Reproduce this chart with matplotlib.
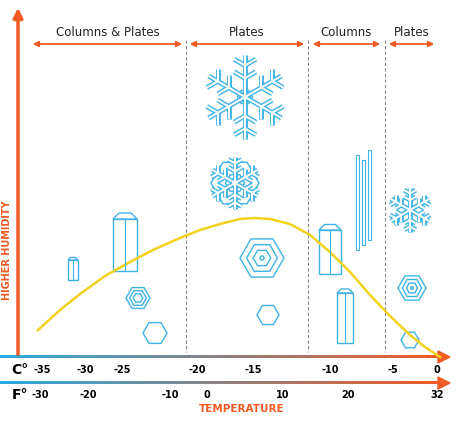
import matplotlib
matplotlib.use("Agg")
import matplotlib.pyplot as plt
import numpy as np
from matplotlib.patches import RegularPolygon, Rectangle, Polygon
from matplotlib.collections import LineCollection
from matplotlib.colors import LinearSegmentedColormap

# data
regions = ["Columns & Plates", "Plates", "Columns", "Plates"]
region_bounds = [(30, 185), (187, 307), (310, 383), (386, 437)]
c_labels = ["-35", "-30", "-25", "-20", "-15", "-10", "-5", "0"]
c_pos = [42, 85, 122, 197, 253, 330, 393, 437]
f_labels = ["-30", "-20", "-10", "0", "10", "20", "32"]
f_pos = [40, 88, 170, 207, 283, 348, 437]
curve_x = [38, 60, 80, 105, 130, 155, 180, 200, 220, 240, 255, 270, 290, 310, 330, 350, 370, 390, 410, 425, 440]
curve_y = [330, 310, 294, 276, 262, 249, 238, 230, 224, 219, 218, 219, 224, 235, 252, 272, 295, 316, 335, 347, 357]

ORANGE = "#f15a24"
BLUE = "#29abe2"
CB = "#3fb3e6"

fig = plt.figure(figsize=(4.74, 4.23), dpi=100)
ax = fig.add_axes([0, 0, 1, 1])
ax.set_xlim(0, 474); ax.set_ylim(423, 0); ax.axis("off")

ax.annotate("", xy=(18, 5), xytext=(18, 357), arrowprops=dict(arrowstyle="-|>", color=ORANGE, lw=2.5, mutation_scale=14))
ax.text(7, 250, "HIGHER HUMIDITY", rotation=90, color=ORANGE, fontsize=7, fontweight="bold", ha="center", va="center")

for (a, b), lab in zip(region_bounds, regions):
    ax.annotate("", xy=(a, 44), xytext=(b, 44), arrowprops=dict(arrowstyle="<|-|>", color=ORANGE, lw=1.3, mutation_scale=8))
    ax.text((a + b) / 2, 33, lab, ha="center", va="center", fontsize=8.5, color="#222")
for x in [186, 308, 385]:
    ax.plot([x, x], [40, 352], ls=(0, (3, 2)), color="#888", lw=0.8)

grad = np.linspace(0, 1, 256)[None, :]
cm = LinearSegmentedColormap.from_list("g", [BLUE, ORANGE])
for y in [357, 383]:
    ax.imshow(grad, cmap=cm, extent=(0, 440, y + 1.5, y - 1.5), aspect="auto")
    ax.add_patch(Polygon([(438, y - 6), (450, y), (438, y + 6)], color=ORANGE))
ax.set_xlim(0, 474); ax.set_ylim(423, 0)
ax.text(20, 370, "C°", fontsize=10, fontweight="bold", ha="center", va="center")
ax.text(20, 395, "F°", fontsize=10, fontweight="bold", ha="center", va="center")
for l, p in zip(c_labels, c_pos):
    ax.text(p, 370, l, fontsize=7, fontweight="bold", ha="center", va="center")
for l, p in zip(f_labels, f_pos):
    ax.text(p, 395, l, fontsize=7, fontweight="bold", ha="center", va="center")
ax.text(242, 409, "TEMPERATURE", fontsize=7.5, fontweight="bold", color=ORANGE, ha="center", va="center")

ax.plot(curve_x, curve_y, color="#f2d21b", lw=1.8)

def hexplate(x, y, r, rings=2):
    for i in range(rings + 1):
        ax.add_patch(RegularPolygon((x, y), 6, radius=r * (1 - i * 0.3), orientation=np.pi / 6,
                                    fill=(i == 0), fc="white", ec=CB, lw=1))

def prism(x, y, w, h):
    ax.add_patch(Rectangle((x - w / 2, y - h / 2), w, h, fc="white", ec=CB, lw=1))
    ax.add_patch(Polygon([(x - w / 2, y - h / 2), (x - w / 4, y - h / 2 - w / 4), (x + w / 4, y - h / 2 - w / 4), (x + w / 2, y - h / 2)], fc="white", ec=CB, lw=1))
    ax.plot([x, x], [y - h / 2, y + h / 2], color=CB, lw=0.8)

def flake(x, y, r):
    segs = []
    for k in range(6):
        a = k * np.pi / 3 + np.pi / 2
        d = np.array([np.cos(a), np.sin(a)])
        segs.append([(x, y), (x + r * d[0], y + r * d[1])])
        for t in (0.45, 0.75):
            p = np.array([x, y]) + t * r * d
            for s in (1, -1):
                b = a + s * np.pi / 3
                q = p + 0.3 * r * np.array([np.cos(b), np.sin(b)])
                segs.append([tuple(p), tuple(q)])
    ax.add_collection(LineCollection(segs, colors=CB, lw=3.5))
    ax.add_collection(LineCollection(segs, colors="white", lw=1.5))
    hexplate(x, y, r * 0.18, 1)

prism(73, 270, 10, 20)
prism(125, 245, 24, 52)
hexplate(138, 298, 12, 2)
hexplate(155, 333, 12, 0)
flake(245, 97, 42)
hexplate(235, 183, 24, 3)
flake(235, 183, 26)
hexplate(262, 258, 22, 3)
hexplate(268, 315, 11, 0)
prism(330, 252, 22, 44)
prism(345, 318, 16, 50)
for nx, ny0, ny1 in [(358, 155, 250), (364, 160, 245), (370, 150, 240)]:
    ax.add_patch(Rectangle((nx - 1.5, ny0), 3, ny1 - ny0, fc="white", ec=CB, lw=0.8))
flake(410, 210, 22)
hexplate(412, 288, 14, 3)
hexplate(410, 340, 9, 0)

fig.savefig("out.png", dpi=100)
